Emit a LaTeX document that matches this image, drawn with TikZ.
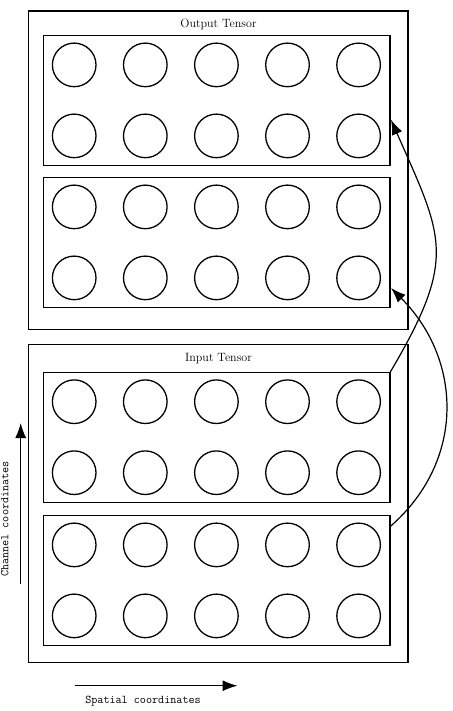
\documentclass[tikz,border=0pt]{standalone}
\usetikzlibrary{arrows.meta,calc}
\begin{document}
\begin{tikzpicture}[x=1pt,y=-1pt,
  outerbox/.style={draw,line width=1.2pt,minimum width=379.3pt,minimum height=318.3pt,inner sep=0pt,outer sep=0pt},
  groupbox/.style={draw,line width=1.2pt,minimum width=346.7pt,minimum height=130pt,inner sep=0pt,outer sep=0pt},
  cell/.style={draw,circle,line width=1.3pt,minimum size=43.6pt,inner sep=0pt},
  title/.style={font=\fontsize{12}{14}\selectfont},
  axislabel/.style={font=\fontsize{11.8}{14}\selectfont\ttfamily},
  flow/.style={line width=1.2pt,-{Latex[length=15pt,width=11pt]}}]
\useasboundingbox (0,0) rectangle (452,711);
% outer boxes
\node[outerbox] (out) at (218.35,170.15) {};
\node[outerbox] (in) at (218.35,503.5) {};
\node[title] (outt) at (218.5,24.5) {Output Tensor};
\node[title] (int) at (218.5,358.5) {Input Tensor};
% groups
\node[groupbox] (og1) at (216.65,100.7) {};
\node[groupbox] (og2) at (216.65,242.7) {};
\node[groupbox] (ig1) at (216.65,437.5) {};
\node[groupbox] (ig2) at (216.65,580.7) {};
% circles
\foreach \g/\cy in {og1/100.7,og2/242.7,ig1/437.5,ig2/580.7}{
  \foreach \i in {0,...,4}{
    \node[cell] (\g-a\i) at ({74.2+71.1*\i},{\cy-35.8}) {};
    \node[cell] (\g-b\i) at ({74.2+71.1*\i},{\cy+35.2}) {};
  }
}
% curved arrows
\coordinate (s2) at ($(ig2.north east)+(0,11)$);
\coordinate (e1) at ($(og1.east)+(1,19)$);
\coordinate (e2) at ($(og2.east)+(1,45.3)$);
\draw[flow] (ig1.north east) .. controls +(68,-115) and +(52,118) .. (e1);
\draw[flow] (s2) .. controls +(76,-66) and +(71.1,71.1) .. (e2);
% axes
\coordinate (ch0) at (20.7,584);
\coordinate (ch1) at (20.7,423);
\coordinate (sp0) at (75,685.7);
\coordinate (sp1) at (237.5,685.7);
\draw[flow] (ch0) -- (ch1);
\draw[flow] (sp0) -- (sp1);
\node[axislabel,rotate=90] (chl) at (4.8,519) {Channel coordinates};
\node[axislabel] (spl) at (143,701) {Spatial coordinates};
\end{tikzpicture}
\end{document}
